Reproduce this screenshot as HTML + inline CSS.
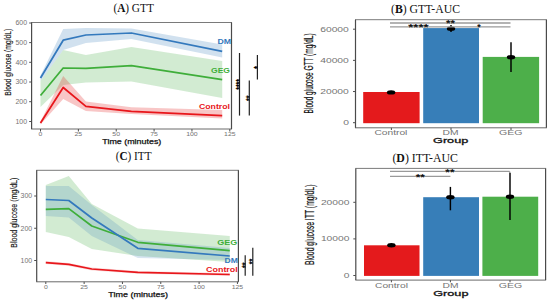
<!DOCTYPE html><html><head><meta charset="utf-8"><style>html,body{margin:0;padding:0;background:#fff;}svg{display:block;}</style></head><body>
<svg width="550" height="302" viewBox="0 0 550 302">
<rect width="550" height="302" fill="#fff"/>
<text x="113.4" y="12.4" font-size="12" font-family='"Liberation Serif", serif' fill="#111" textLength="40.400000000000006" lengthAdjust="spacingAndGlyphs">(<tspan font-weight="bold">A</tspan>) GTT</text>
<polygon points="40.50,81.00 63.20,50.00 85.90,55.00 131.40,47.00 222.20,61.00 222.20,98.00 131.40,81.60 85.90,82.40 63.20,85.00 40.50,107.00" fill="#4daf4a" fill-opacity="0.25"/>
<polygon points="40.50,75.50 63.20,29.00 85.90,28.00 131.40,28.60 222.20,44.60 222.20,57.60 131.40,39.00 85.90,43.00 63.20,50.00 40.50,81.00" fill="#377eb8" fill-opacity="0.23"/>
<polygon points="40.50,121.50 63.20,76.00 85.90,101.50 131.40,107.30 222.20,110.00 222.20,118.60 131.40,114.00 85.90,111.00 63.20,99.00 40.50,124.50" fill="#e41a1c" fill-opacity="0.25"/>
<polyline points="40.50,95.50 63.20,68.00 85.90,68.40 131.40,65.60 222.20,79.60" fill="none" stroke="#3fae3a" stroke-width="1.75" stroke-linejoin="round" stroke-linecap="butt"/>
<polyline points="40.50,78.00 63.20,40.20 85.90,35.00 131.40,33.00 222.20,51.40" fill="none" stroke="#3479bd" stroke-width="1.75" stroke-linejoin="round" stroke-linecap="butt"/>
<polyline points="40.50,123.00 63.20,87.50 85.90,106.30 131.40,111.30 222.20,115.60" fill="none" stroke="#e8161b" stroke-width="1.75" stroke-linejoin="round" stroke-linecap="butt"/>
<line x1="31.1" y1="22.5" x2="232.0" y2="22.5" stroke="#7a7a7a" stroke-width="1"/>
<line x1="31.1" y1="129" x2="232.0" y2="129" stroke="#6a6a6a" stroke-width="1"/>
<line x1="31.6" y1="22.5" x2="31.6" y2="129" stroke="#4a4a4a" stroke-width="1.2"/>
<line x1="231.5" y1="22.5" x2="231.5" y2="129" stroke="#4a4a4a" stroke-width="1.2"/>
<line x1="29.2" y1="23" x2="31.6" y2="23" stroke="#4d4d4d" stroke-width="1"/>
<text x="27.1" y="25.35" font-size="6.6" font-family='"Liberation Sans", sans-serif' fill="#737373" font-weight="normal" text-anchor="end" textLength="11.6" lengthAdjust="spacingAndGlyphs" >600</text>
<line x1="29.2" y1="42.6" x2="31.6" y2="42.6" stroke="#4d4d4d" stroke-width="1"/>
<text x="27.1" y="44.95" font-size="6.6" font-family='"Liberation Sans", sans-serif' fill="#737373" font-weight="normal" text-anchor="end" textLength="11.6" lengthAdjust="spacingAndGlyphs" >500</text>
<line x1="29.2" y1="62.3" x2="31.6" y2="62.3" stroke="#4d4d4d" stroke-width="1"/>
<text x="27.1" y="64.64999999999999" font-size="6.6" font-family='"Liberation Sans", sans-serif' fill="#737373" font-weight="normal" text-anchor="end" textLength="11.6" lengthAdjust="spacingAndGlyphs" >400</text>
<line x1="29.2" y1="82.0" x2="31.6" y2="82.0" stroke="#4d4d4d" stroke-width="1"/>
<text x="27.1" y="84.35" font-size="6.6" font-family='"Liberation Sans", sans-serif' fill="#737373" font-weight="normal" text-anchor="end" textLength="11.6" lengthAdjust="spacingAndGlyphs" >300</text>
<line x1="29.2" y1="101.7" x2="31.6" y2="101.7" stroke="#4d4d4d" stroke-width="1"/>
<text x="27.1" y="104.05" font-size="6.6" font-family='"Liberation Sans", sans-serif' fill="#737373" font-weight="normal" text-anchor="end" textLength="11.6" lengthAdjust="spacingAndGlyphs" >200</text>
<line x1="29.2" y1="121.5" x2="31.6" y2="121.5" stroke="#4d4d4d" stroke-width="1"/>
<text x="27.1" y="123.85" font-size="6.6" font-family='"Liberation Sans", sans-serif' fill="#737373" font-weight="normal" text-anchor="end" textLength="11.6" lengthAdjust="spacingAndGlyphs" >100</text>
<line x1="40.5" y1="129" x2="40.5" y2="131.5" stroke="#4d4d4d" stroke-width="1"/>
<text x="40.5" y="136" font-size="6.2" font-family='"Liberation Sans", sans-serif' fill="#737373" font-weight="normal" text-anchor="middle" textLength="3.8" lengthAdjust="spacingAndGlyphs" >0</text>
<line x1="78.36" y1="129" x2="78.36" y2="131.5" stroke="#4d4d4d" stroke-width="1"/>
<text x="78.36" y="136" font-size="6.2" font-family='"Liberation Sans", sans-serif' fill="#737373" font-weight="normal" text-anchor="middle" textLength="7.7" lengthAdjust="spacingAndGlyphs" >25</text>
<line x1="116.22" y1="129" x2="116.22" y2="131.5" stroke="#4d4d4d" stroke-width="1"/>
<text x="116.22" y="136" font-size="6.2" font-family='"Liberation Sans", sans-serif' fill="#737373" font-weight="normal" text-anchor="middle" textLength="7.7" lengthAdjust="spacingAndGlyphs" >50</text>
<line x1="154.07999999999998" y1="129" x2="154.07999999999998" y2="131.5" stroke="#4d4d4d" stroke-width="1"/>
<text x="154.07999999999998" y="136" font-size="6.2" font-family='"Liberation Sans", sans-serif' fill="#737373" font-weight="normal" text-anchor="middle" textLength="7.7" lengthAdjust="spacingAndGlyphs" >75</text>
<line x1="191.94" y1="129" x2="191.94" y2="131.5" stroke="#4d4d4d" stroke-width="1"/>
<text x="191.94" y="136" font-size="6.2" font-family='"Liberation Sans", sans-serif' fill="#737373" font-weight="normal" text-anchor="middle" textLength="11.5" lengthAdjust="spacingAndGlyphs" >100</text>
<line x1="229.79999999999998" y1="129" x2="229.79999999999998" y2="131.5" stroke="#4d4d4d" stroke-width="1"/>
<text x="229.79999999999998" y="136" font-size="6.2" font-family='"Liberation Sans", sans-serif' fill="#737373" font-weight="normal" text-anchor="middle" textLength="11.5" lengthAdjust="spacingAndGlyphs" >125</text>
<text x="102.3" y="143.5" font-size="7.2" font-family='"Liberation Sans", sans-serif' fill="#111" font-weight="normal" text-anchor="start" textLength="59" lengthAdjust="spacingAndGlyphs" stroke="#111" stroke-width="0.25">Time (minutes)</text>
<text transform="translate(10.7,62.3) rotate(-90)" x="0" y="0" font-size="9.3" font-family='"Liberation Sans", sans-serif' fill="#111" font-weight="normal" text-anchor="middle" stroke="#111" stroke-width="0.15" textLength="67" lengthAdjust="spacingAndGlyphs">Blood glucose (mg/dL)</text>
<text x="217.4" y="44.4" font-size="7.6" font-family='"Liberation Sans", sans-serif' fill="#3479bd" font-weight="bold" text-anchor="start" textLength="13.6" lengthAdjust="spacingAndGlyphs" >DM</text>
<text x="211" y="73" font-size="7.6" font-family='"Liberation Sans", sans-serif' fill="#3fae3a" font-weight="bold" text-anchor="start" textLength="19" lengthAdjust="spacingAndGlyphs" >GEG</text>
<text x="199" y="109" font-size="7.6" font-family='"Liberation Sans", sans-serif' fill="#e8161b" font-weight="bold" text-anchor="start" textLength="31" lengthAdjust="spacingAndGlyphs" >Control</text>
<line x1="239.5" y1="53" x2="239.5" y2="115.6" stroke="#222" stroke-width="1.2"/>
<line x1="249.3" y1="80.5" x2="249.3" y2="115.6" stroke="#222" stroke-width="1.2"/>
<line x1="257.4" y1="55" x2="257.4" y2="79.5" stroke="#222" stroke-width="1.2"/>
<text transform="translate(242.1,84.4) rotate(-90)" x="0" y="0" font-size="8.5" font-family='"Liberation Sans", sans-serif' fill="#000" font-weight="normal" text-anchor="middle" stroke="#000" stroke-width="0.35" textLength="10.5" lengthAdjust="spacingAndGlyphs">****</text>
<text transform="translate(252.4,98.2) rotate(-90)" x="0" y="0" font-size="8.5" font-family='"Liberation Sans", sans-serif' fill="#000" font-weight="normal" text-anchor="middle" stroke="#000" stroke-width="0.35" textLength="5.5" lengthAdjust="spacingAndGlyphs">**</text>
<text transform="translate(259.9,67.5) rotate(-90)" x="0" y="0" font-size="8.5" font-family='"Liberation Sans", sans-serif' fill="#000" font-weight="normal" text-anchor="middle" stroke="#000" stroke-width="0.35" textLength="3" lengthAdjust="spacingAndGlyphs">*</text>
<text x="391" y="13" font-size="12" font-family='"Liberation Serif", serif' fill="#111" textLength="69" lengthAdjust="spacingAndGlyphs">(<tspan font-weight="bold">B</tspan>) GTT-AUC</text>
<line x1="355.0" y1="19.7" x2="546.9" y2="19.7" stroke="#7a7a7a" stroke-width="1"/>
<line x1="355.0" y1="127.8" x2="546.9" y2="127.8" stroke="#6a6a6a" stroke-width="1"/>
<line x1="355.5" y1="19.7" x2="355.5" y2="127.8" stroke="#4a4a4a" stroke-width="1.2"/>
<line x1="546.4" y1="19.7" x2="546.4" y2="127.8" stroke="#4a4a4a" stroke-width="1.2"/>
<line x1="353" y1="122.7" x2="355.5" y2="122.7" stroke="#4d4d4d" stroke-width="1"/>
<text x="348.9" y="125.0" font-size="6.4" font-family='"Liberation Sans", sans-serif' fill="#737373" font-weight="normal" text-anchor="end" textLength="5.75" lengthAdjust="spacingAndGlyphs" >0</text>
<line x1="353" y1="91.53333333333333" x2="355.5" y2="91.53333333333333" stroke="#4d4d4d" stroke-width="1"/>
<text x="348.9" y="93.83333333333333" font-size="6.4" font-family='"Liberation Sans", sans-serif' fill="#737373" font-weight="normal" text-anchor="end" textLength="28.75" lengthAdjust="spacingAndGlyphs" >20000</text>
<line x1="353" y1="60.36666666666667" x2="355.5" y2="60.36666666666667" stroke="#4d4d4d" stroke-width="1"/>
<text x="348.9" y="62.666666666666664" font-size="6.4" font-family='"Liberation Sans", sans-serif' fill="#737373" font-weight="normal" text-anchor="end" textLength="28.75" lengthAdjust="spacingAndGlyphs" >40000</text>
<line x1="353" y1="29.200000000000003" x2="355.5" y2="29.200000000000003" stroke="#4d4d4d" stroke-width="1"/>
<text x="348.9" y="31.500000000000004" font-size="6.4" font-family='"Liberation Sans", sans-serif' fill="#737373" font-weight="normal" text-anchor="end" textLength="28.75" lengthAdjust="spacingAndGlyphs" >60000</text>
<rect x="363.2" y="92" width="56.400000000000034" height="31.200000000000003" fill="#e41a1c"/>
<rect x="423.2" y="28.1" width="55.80000000000001" height="95.1" fill="#377eb8"/>
<rect x="482.7" y="56.9" width="56.400000000000034" height="66.30000000000001" fill="#4daf4a"/>
<line x1="391.4" y1="127.8" x2="391.4" y2="130" stroke="#4d4d4d" stroke-width="1"/>
<line x1="451" y1="127.8" x2="451" y2="130" stroke="#4d4d4d" stroke-width="1"/>
<line x1="511" y1="127.8" x2="511" y2="130" stroke="#4d4d4d" stroke-width="1"/>
<text x="374.4" y="134.8" font-size="6.4" font-family='"Liberation Sans", sans-serif' fill="#737373" font-weight="normal" text-anchor="start" textLength="33" lengthAdjust="spacingAndGlyphs" >Control</text>
<text x="450.6" y="134.8" font-size="6.4" font-family='"Liberation Sans", sans-serif' fill="#737373" font-weight="normal" text-anchor="middle" textLength="16" lengthAdjust="spacingAndGlyphs" >DM</text>
<text x="510.8" y="134.8" font-size="6.4" font-family='"Liberation Sans", sans-serif' fill="#737373" font-weight="normal" text-anchor="middle" textLength="23.5" lengthAdjust="spacingAndGlyphs" >GEG</text>
<text x="433" y="142.5" font-size="8" font-family='"Liberation Sans", sans-serif' fill="#111" font-weight="normal" text-anchor="start" textLength="35.3" lengthAdjust="spacingAndGlyphs" stroke="#111" stroke-width="0.3">Group</text>
<text transform="translate(312.8,73.4) rotate(-90)" x="0" y="0" font-size="13.6" font-family='"Liberation Sans", sans-serif' fill="#111" font-weight="normal" text-anchor="middle" stroke="#111" stroke-width="0.2" textLength="80" lengthAdjust="spacingAndGlyphs">Blood glucose GTT (mg/dL)</text>
<line x1="391.1" y1="91" x2="391.1" y2="93.8" stroke="#000" stroke-width="1.45"/>
<ellipse cx="391.1" cy="92.4" rx="4.2" ry="2.2" fill="#000"/>
<line x1="451" y1="24.9" x2="451" y2="32" stroke="#000" stroke-width="1.45"/>
<ellipse cx="451" cy="28.7" rx="4.2" ry="2.2" fill="#000"/>
<line x1="511" y1="42.3" x2="511" y2="72" stroke="#000" stroke-width="1.45"/>
<ellipse cx="511" cy="57.2" rx="4.2" ry="2.2" fill="#000"/>
<line x1="390" y1="23" x2="510.5" y2="23" stroke="#9a9a9a" stroke-width="1.3"/>
<line x1="390" y1="26.8" x2="510.5" y2="26.8" stroke="#9a9a9a" stroke-width="1.3"/>
<text x="450.5" y="25.9" font-size="9" font-family='"Liberation Sans", sans-serif' fill="#000" font-weight="normal" text-anchor="middle" textLength="9" lengthAdjust="spacingAndGlyphs" stroke="#000" stroke-width="0.2">**</text>
<text x="418.5" y="29.6" font-size="9" font-family='"Liberation Sans", sans-serif' fill="#000" font-weight="normal" text-anchor="middle" textLength="20.5" lengthAdjust="spacingAndGlyphs" stroke="#000" stroke-width="0.2">****</text>
<text x="479" y="29.8" font-size="9" font-family='"Liberation Sans", sans-serif' fill="#000" font-weight="normal" text-anchor="middle" textLength="3.5" lengthAdjust="spacingAndGlyphs" stroke="#000" stroke-width="0.2">*</text>
<text x="115.7" y="160.4" font-size="12" font-family='"Liberation Serif", serif' fill="#111" textLength="35.89999999999999" lengthAdjust="spacingAndGlyphs">(<tspan font-weight="bold">C</tspan>) ITT</text>
<polygon points="45.80,185.00 68.79,176.00 91.79,204.00 137.78,228.60 229.76,236.00 229.76,262.00 137.78,256.00 91.79,249.00 68.79,237.00 45.80,232.00" fill="#4daf4a" fill-opacity="0.25"/>
<polygon points="45.80,186.00 68.79,186.00 91.79,205.00 137.78,240.00 229.76,248.00 229.76,260.00 137.78,258.00 91.79,236.00 68.79,217.60 45.80,216.00" fill="#377eb8" fill-opacity="0.2"/>
<polygon points="45.80,261.00 68.79,263.00 91.79,267.60 137.78,271.00 229.76,273.00 229.76,276.00 137.78,273.80 91.79,270.40 68.79,266.00 45.80,264.00" fill="#e41a1c" fill-opacity="0.15"/>
<polyline points="45.80,209.40 68.79,208.60 91.79,226.00 137.78,242.30 229.76,250.60" fill="none" stroke="#3fae3a" stroke-width="1.75" stroke-linejoin="round" stroke-linecap="butt"/>
<polyline points="45.80,199.50 68.79,200.50 91.79,218.00 137.78,248.30 229.76,256.00" fill="none" stroke="#3479bd" stroke-width="1.75" stroke-linejoin="round" stroke-linecap="butt"/>
<polyline points="45.80,262.60 68.79,264.40 91.79,269.00 137.78,272.40 229.76,274.50" fill="none" stroke="#e8161b" stroke-width="1.75" stroke-linejoin="round" stroke-linecap="butt"/>
<line x1="36.2" y1="170.3" x2="238.9" y2="170.3" stroke="#7a7a7a" stroke-width="1"/>
<line x1="36.2" y1="281.8" x2="238.9" y2="281.8" stroke="#6a6a6a" stroke-width="1"/>
<line x1="36.7" y1="170.3" x2="36.7" y2="281.8" stroke="#4a4a4a" stroke-width="1.2"/>
<line x1="238.4" y1="170.3" x2="238.4" y2="281.8" stroke="#4a4a4a" stroke-width="1.2"/>
<line x1="34.2" y1="196" x2="36.7" y2="196" stroke="#4d4d4d" stroke-width="1"/>
<text x="32.2" y="198.35" font-size="6.6" font-family='"Liberation Sans", sans-serif' fill="#737373" font-weight="normal" text-anchor="end" textLength="11.6" lengthAdjust="spacingAndGlyphs" >300</text>
<line x1="34.2" y1="228.25" x2="36.7" y2="228.25" stroke="#4d4d4d" stroke-width="1"/>
<text x="32.2" y="230.6" font-size="6.6" font-family='"Liberation Sans", sans-serif' fill="#737373" font-weight="normal" text-anchor="end" textLength="11.6" lengthAdjust="spacingAndGlyphs" >200</text>
<line x1="34.2" y1="260.5" x2="36.7" y2="260.5" stroke="#4d4d4d" stroke-width="1"/>
<text x="32.2" y="262.85" font-size="6.6" font-family='"Liberation Sans", sans-serif' fill="#737373" font-weight="normal" text-anchor="end" textLength="11.6" lengthAdjust="spacingAndGlyphs" >100</text>
<line x1="45.8" y1="281.8" x2="45.8" y2="284" stroke="#4d4d4d" stroke-width="1"/>
<text x="45.8" y="289" font-size="6.2" font-family='"Liberation Sans", sans-serif' fill="#737373" font-weight="normal" text-anchor="middle" textLength="3.8" lengthAdjust="spacingAndGlyphs" >0</text>
<line x1="84.125" y1="281.8" x2="84.125" y2="284" stroke="#4d4d4d" stroke-width="1"/>
<text x="84.125" y="289" font-size="6.2" font-family='"Liberation Sans", sans-serif' fill="#737373" font-weight="normal" text-anchor="middle" textLength="7.7" lengthAdjust="spacingAndGlyphs" >25</text>
<line x1="122.44999999999999" y1="281.8" x2="122.44999999999999" y2="284" stroke="#4d4d4d" stroke-width="1"/>
<text x="122.44999999999999" y="289" font-size="6.2" font-family='"Liberation Sans", sans-serif' fill="#737373" font-weight="normal" text-anchor="middle" textLength="7.7" lengthAdjust="spacingAndGlyphs" >50</text>
<line x1="160.77499999999998" y1="281.8" x2="160.77499999999998" y2="284" stroke="#4d4d4d" stroke-width="1"/>
<text x="160.77499999999998" y="289" font-size="6.2" font-family='"Liberation Sans", sans-serif' fill="#737373" font-weight="normal" text-anchor="middle" textLength="7.7" lengthAdjust="spacingAndGlyphs" >75</text>
<line x1="199.09999999999997" y1="281.8" x2="199.09999999999997" y2="284" stroke="#4d4d4d" stroke-width="1"/>
<text x="199.09999999999997" y="289" font-size="6.2" font-family='"Liberation Sans", sans-serif' fill="#737373" font-weight="normal" text-anchor="middle" textLength="11.5" lengthAdjust="spacingAndGlyphs" >100</text>
<line x1="237.425" y1="281.8" x2="237.425" y2="284" stroke="#4d4d4d" stroke-width="1"/>
<text x="237.425" y="289" font-size="6.2" font-family='"Liberation Sans", sans-serif' fill="#737373" font-weight="normal" text-anchor="middle" textLength="11.5" lengthAdjust="spacingAndGlyphs" >125</text>
<text x="108.3" y="296.9" font-size="7.2" font-family='"Liberation Sans", sans-serif' fill="#111" font-weight="normal" text-anchor="start" textLength="59.6" lengthAdjust="spacingAndGlyphs" stroke="#111" stroke-width="0.25">Time (minutes)</text>
<text transform="translate(16.8,212.7) rotate(-90)" x="0" y="0" font-size="9.8" font-family='"Liberation Sans", sans-serif' fill="#111" font-weight="normal" text-anchor="middle" stroke="#111" stroke-width="0.15" textLength="70" lengthAdjust="spacingAndGlyphs">Blood glucose (mg/dL)</text>
<text x="217.2" y="244.5" font-size="7.6" font-family='"Liberation Sans", sans-serif' fill="#3fae3a" font-weight="bold" text-anchor="start" textLength="20" lengthAdjust="spacingAndGlyphs" >GEG</text>
<text x="224.5" y="262.8" font-size="7.6" font-family='"Liberation Sans", sans-serif' fill="#3479bd" font-weight="bold" text-anchor="start" textLength="13.3" lengthAdjust="spacingAndGlyphs" >DM</text>
<text x="206" y="271.5" font-size="7.6" font-family='"Liberation Sans", sans-serif' fill="#e8161b" font-weight="bold" text-anchor="start" textLength="31.8" lengthAdjust="spacingAndGlyphs" >Control</text>
<line x1="245.2" y1="255.2" x2="245.2" y2="275.8" stroke="#222" stroke-width="1.2"/>
<line x1="252.8" y1="247.7" x2="252.8" y2="275.8" stroke="#222" stroke-width="1.2"/>
<text transform="translate(247.7,265.3) rotate(-90)" x="0" y="0" font-size="8.5" font-family='"Liberation Sans", sans-serif' fill="#000" font-weight="normal" text-anchor="middle" stroke="#000" stroke-width="0.35" textLength="5.5" lengthAdjust="spacingAndGlyphs">**</text>
<text transform="translate(255.4,261.5) rotate(-90)" x="0" y="0" font-size="8.5" font-family='"Liberation Sans", sans-serif' fill="#000" font-weight="normal" text-anchor="middle" stroke="#000" stroke-width="0.35" textLength="5.5" lengthAdjust="spacingAndGlyphs">**</text>
<text x="392.4" y="162.4" font-size="12" font-family='"Liberation Serif", serif' fill="#111" textLength="65.60000000000002" lengthAdjust="spacingAndGlyphs">(<tspan font-weight="bold">D</tspan>) ITT-AUC</text>
<line x1="355.3" y1="168.4" x2="546.1" y2="168.4" stroke="#7a7a7a" stroke-width="1"/>
<line x1="355.3" y1="280.1" x2="546.1" y2="280.1" stroke="#6a6a6a" stroke-width="1"/>
<line x1="355.8" y1="168.4" x2="355.8" y2="280.1" stroke="#4a4a4a" stroke-width="1.2"/>
<line x1="545.6" y1="168.4" x2="545.6" y2="280.1" stroke="#4a4a4a" stroke-width="1.2"/>
<line x1="353.3" y1="275.5" x2="355.8" y2="275.5" stroke="#4d4d4d" stroke-width="1"/>
<text x="349.5" y="277.8" font-size="6.4" font-family='"Liberation Sans", sans-serif' fill="#737373" font-weight="normal" text-anchor="end" textLength="5.72" lengthAdjust="spacingAndGlyphs" >0</text>
<line x1="353.3" y1="238.9" x2="355.8" y2="238.9" stroke="#4d4d4d" stroke-width="1"/>
<text x="349.5" y="241.20000000000002" font-size="6.4" font-family='"Liberation Sans", sans-serif' fill="#737373" font-weight="normal" text-anchor="end" textLength="28.599999999999998" lengthAdjust="spacingAndGlyphs" >10000</text>
<line x1="353.3" y1="202.3" x2="355.8" y2="202.3" stroke="#4d4d4d" stroke-width="1"/>
<text x="349.5" y="204.60000000000002" font-size="6.4" font-family='"Liberation Sans", sans-serif' fill="#737373" font-weight="normal" text-anchor="end" textLength="28.599999999999998" lengthAdjust="spacingAndGlyphs" >20000</text>
<rect x="364" y="245.3" width="55.5" height="30.599999999999966" fill="#e41a1c"/>
<rect x="423.2" y="197.2" width="55.80000000000001" height="78.69999999999999" fill="#377eb8"/>
<rect x="482.4" y="196.7" width="55.80000000000007" height="79.19999999999999" fill="#4daf4a"/>
<line x1="391.4" y1="280.1" x2="391.4" y2="282.3" stroke="#4d4d4d" stroke-width="1"/>
<line x1="450.4" y1="280.1" x2="450.4" y2="282.3" stroke="#4d4d4d" stroke-width="1"/>
<line x1="510" y1="280.1" x2="510" y2="282.3" stroke="#4d4d4d" stroke-width="1"/>
<text x="375" y="288" font-size="6.4" font-family='"Liberation Sans", sans-serif' fill="#737373" font-weight="normal" text-anchor="start" textLength="33" lengthAdjust="spacingAndGlyphs" >Control</text>
<text x="450.6" y="287.6" font-size="6.4" font-family='"Liberation Sans", sans-serif' fill="#737373" font-weight="normal" text-anchor="middle" textLength="16" lengthAdjust="spacingAndGlyphs" >DM</text>
<text x="510.6" y="287.6" font-size="6.4" font-family='"Liberation Sans", sans-serif' fill="#737373" font-weight="normal" text-anchor="middle" textLength="23.5" lengthAdjust="spacingAndGlyphs" >GEG</text>
<text x="433.2" y="295.8" font-size="8" font-family='"Liberation Sans", sans-serif' fill="#111" font-weight="normal" text-anchor="start" textLength="35.3" lengthAdjust="spacingAndGlyphs" stroke="#111" stroke-width="0.3">Group</text>
<text transform="translate(313.7,224.8) rotate(-90)" x="0" y="0" font-size="13.6" font-family='"Liberation Sans", sans-serif' fill="#111" font-weight="normal" text-anchor="middle" stroke="#111" stroke-width="0.2" textLength="80.5" lengthAdjust="spacingAndGlyphs">Blood glucose ITT (mg/dL)</text>
<line x1="391.4" y1="244.6" x2="391.4" y2="246" stroke="#000" stroke-width="1.45"/>
<ellipse cx="391.4" cy="245.3" rx="4.2" ry="2.2" fill="#000"/>
<line x1="450.4" y1="186.9" x2="450.4" y2="210.3" stroke="#000" stroke-width="1.45"/>
<ellipse cx="450.4" cy="197.2" rx="4.2" ry="2.2" fill="#000"/>
<line x1="510" y1="172.7" x2="510" y2="219.9" stroke="#000" stroke-width="1.45"/>
<ellipse cx="510" cy="196.7" rx="4.2" ry="2.2" fill="#000"/>
<line x1="390" y1="171.4" x2="509.6" y2="171.4" stroke="#9a9a9a" stroke-width="1.3"/>
<line x1="509.6" y1="171.4" x2="509.6" y2="173" stroke="#9a9a9a" stroke-width="1.3"/>
<line x1="390" y1="176.4" x2="450.4" y2="176.4" stroke="#9a9a9a" stroke-width="1.3"/>
<text x="449.9" y="175.0" font-size="9" font-family='"Liberation Sans", sans-serif' fill="#000" font-weight="normal" text-anchor="middle" textLength="9.2" lengthAdjust="spacingAndGlyphs" stroke="#000" stroke-width="0.2">**</text>
<text x="420.3" y="180.1" font-size="9" font-family='"Liberation Sans", sans-serif' fill="#000" font-weight="normal" text-anchor="middle" textLength="9.2" lengthAdjust="spacingAndGlyphs" stroke="#000" stroke-width="0.2">**</text>
</svg></body></html>
